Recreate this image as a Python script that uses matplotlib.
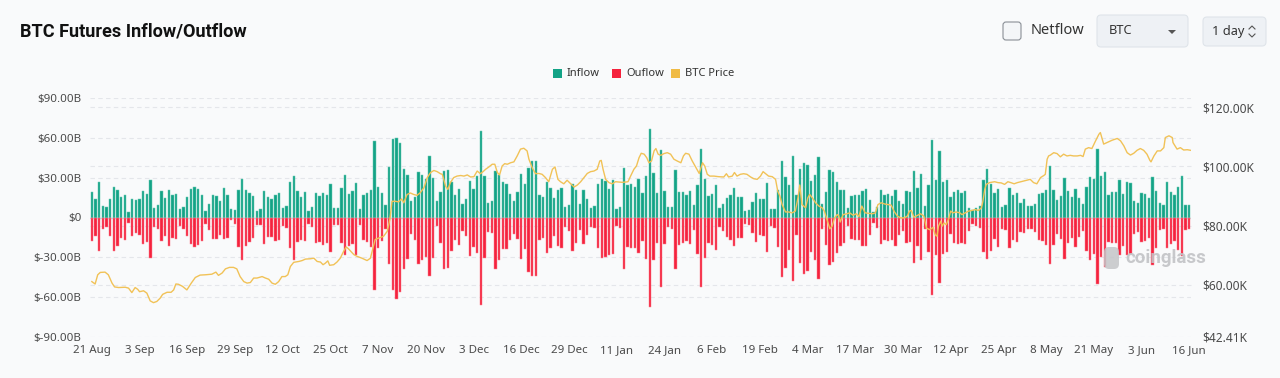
import matplotlib
matplotlib.use("Agg")
import matplotlib.pyplot as plt
from matplotlib.patches import Rectangle, FancyBboxPatch, Polygon
from matplotlib.transforms import blended_transform_factory
import numpy as np

# ---------------- data ----------------
start_date = "2024-08-21"
x_tick_labels = ["21 Aug", "3 Sep", "16 Sep", "29 Sep", "12 Oct", "25 Oct", "7 Nov",
                 "20 Nov", "3 Dec", "16 Dec", "29 Dec", "11 Jan", "24 Jan", "6 Feb",
                 "19 Feb", "4 Mar", "17 Mar", "30 Mar", "12 Apr", "25 Apr", "8 May",
                 "21 May", "3 Jun", "16 Jun"]
left_ticks = [-90, -60, -30, 0, 30, 60, 90]
left_tick_labels = ["$-90.00B", "$-60.00B", "$-30.00B", "$0", "$30.00B", "$60.00B", "$90.00B"]
right_ticks = [42.41, 60, 80, 100, 120]
right_tick_labels = ["$42.41K", "$60.00K", "$80.00K", "$100.00K", "$120.00K"]

# daily inflow (billion USD)
inflow = [
    19, 14, 27, 9, 8.25, 13.75, 22.75, 21, 15.75, 17.25, 4.25, 13.75, 13.25, 14, 20.25, 18, 28.25, 7.5,
    9.75, 19.75, 14.5, 21, 16.75, 18, 6.5, 8.25, 15.5, 21.5, 23.25, 21.5, 17.25, 5.25, 10.5, 16.75, 16.5,
    12.5, 22.5, 17, 6.25, 5.75, 20.75, 28.75,
    20.5, 18.25, 16.25, 5, 6.75, 20, 15.25, 14, 16.75, 18.75, 7.25, 8.75, 26.5, 31.5, 20, 15.75, 19, 5.25,
    8.25, 18.25, 16, 18.5, 17.25, 25.25, 7, 7, 22.25, 32.25, 18, 19.75, 26.25, 6.25, 17, 18.5, 21, 57.75,
    23.25, 18.25, 9.5, 38.25, 58.75, 60.25,
    56, 36.5, 31.75, 12.75, 15.75, 34.5, 32, 29.25, 46.5, 29.5, 12.75, 19.25, 35, 35.75, 26.75, 17.25,
    21.5, 10.25, 14.25, 27.5, 21.75, 31, 65.5, 31.5, 11, 12.5, 35.25, 31.75, 26.5, 25, 17.75, 12.25, 19.5,
    33, 25.25, 37.5, 42.25, 42.5, 17.25, 15.75, 26.5, 22.25, 14.5,
    20.5, 22.25, 7.75, 9.75, 25.25, 20.5, 10.25, 20.5, 14, 7.25, 8.5, 25, 28.75, 27.75, 21.75, 28.25, 6.5,
    7.75, 37.25, 24.25, 25.5, 23, 29.25, 18.75, 31.25, 66.75, 33.25, 18.25, 50.75, 20.25, 7.75, 8, 35.75,
    19.5, 19.5, 16.75, 19.75, 9.75, 24.5, 51.5, 28.75, 16.5,
    17.75, 24.5, 7, 10.5, 14.75, 17.25, 22, 15.75, 15.75, 5.25, 5.75, 11.5, 18.25, 13.75, 14, 26, 6.5, 6.5,
    20.5, 42.5, 30.5, 24.75, 46.25, 16.75, 36.5, 40.75, 39.5, 27.5, 32.25, 45.5, 10.25, 19.25, 36, 34, 27,
    21, 21, 7.25, 16.25, 17, 17.25, 20,
    21.5, 13.25, 4.25, 8.25, 21, 17.25, 17.75, 16, 21, 12.25, 10.25, 19.75, 19.5, 34.75, 22, 32.5, 9,
    24.25, 58.25, 28.25, 50, 26.75, 28, 15.75, 19.25, 20.5, 18.25, 20, 7, 5.75, 7.25, 8.75, 28.25, 36.25,
    25.25, 18.25, 21.5, 8.25, 9.25, 22.25, 17.25, 18.25,
    11, 14, 9,
    8.5, 10.5, 17.75, 18.5, 20.75, 39, 21, 13, 16, 29.75, 19.75, 15.5, 21.5, 14.5, 10.25, 23, 30.75, 28.75,
    51.75, 31.5, 34.25, 17.25, 19, 19.25, 28, 18, 26.75, 26.25, 12.25, 11.25, 18.5, 18, 14.5, 30.5, 20.25,
    10.75, 9.75, 26.75, 19.25, 17.25, 22.75, 31, 9.75, 9.5,
]

# daily outflow (billion USD, magnitude)
outflow = [
    17.75, 14, 25, 8.5, 7, 14, 25, 21.5, 15.75, 17, 4, 14, 11.75, 13.5, 20.25, 18.5, 30.25, 7.25, 9, 18, 14,
    21.5, 15.75, 16, 6.5, 8.5, 14, 20, 22.5, 20.75, 17.75, 5, 9.75, 16.5, 16.5, 13.5, 16, 15.75, 2.25, 5.25,
    22.25, 31.75,
    21.5, 18.5, 15.75, 5.75, 6, 20.25, 14.75, 14.75, 17.75, 17, 6.75, 8.25, 23, 32, 18.5, 16.75, 17.5, 4.75,
    7, 19, 18.5, 20.5, 19, 26.25, 6, 6, 19, 28.5, 21.75, 20.25, 28, 6, 17.25, 18.75, 22.25, 54.75, 22.75,
    17.75, 9, 34.75, 54.5, 61.5,
    55.75, 38.75, 31.5, 12.75, 17, 34.75, 32, 29.5, 44, 30.25, 6.5, 19.5, 38.75, 37.75, 25.5, 17, 21, 10.5,
    14, 28.75, 22.25, 26.75, 66, 30.5, 11, 11.5, 39, 32, 24, 24, 17.25, 12.75, 16.5, 31.25, 23.75, 41.25,
    44, 44.25, 17, 15.5, 26.75, 22.75, 14,
    21.5, 22.75, 7, 10.25, 25.25, 19.25, 9.5, 19.75, 13.25, 7.25, 7.75, 23.25, 30.75, 30, 28.25, 27.25,
    6.25, 7.75, 38.5, 22, 22.75, 23.25, 26.75, 18, 31.25, 67.75, 32.25, 19.5, 52, 19.75, 7, 9, 38.5, 20.5,
    19, 17.75, 20, 9.5, 27.25, 52, 30.25, 19,
    20.75, 24.75, 7, 10.5, 14.75, 16.75, 21.75, 15.75, 15.5, 5, 6, 11.5, 18.5, 13, 13.75, 26.25, 6.5, 7.75,
    22.5, 45, 38.25, 24.25, 48, 13, 34.5, 42.75, 40.25, 26.25, 32, 46, 9, 20.75, 36, 33.25, 26.75, 21.5,
    19.5, 6.75, 16.25, 16.75, 16.75, 21.5,
    21.75, 13, 4.5, 7.75, 20.25, 16.75, 17.75, 16.75, 21.75, 13, 10.25, 19.25, 18.25, 34, 21.5, 32.25,
    8.75, 25.75, 58.25, 28.5, 49, 27.25, 26, 12.75, 19, 19.75, 19, 20.25, 10, 5.25, 6.75, 8.25, 26, 31.5,
    25.25, 16.5, 22, 8.5, 9.25, 22.75, 17, 18.5,
    11, 12, 9,
    8.75, 10.75, 17, 18, 20.75, 34.75, 21, 12.75, 16.5, 31.25, 19.25, 15.25, 22, 14.75, 10.25, 25.25,
    32.25, 27.75, 49.75, 29.75, 37.25, 18.25, 19, 19.5, 28.25, 21.5, 28.25, 27.25, 12.25, 10.75, 18.75,
    17.75, 15.25, 36, 23, 9.75, 9, 23.25, 20.25, 17.75, 24.5, 29, 9.5, 9,
]

# BTC price samples: day offset from start_date, price in thousand USD
price_day = [
    0, 0.9, 1.6, 2.3, 3.6, 4.5, 5.5, 6.2, 7.3, 9.1, 10, 10.9, 11.8, 12.5, 13, 14.1, 15, 15.9, 16.8, 17.7,
    18.6, 19.3, 20.5, 21.6, 22.3, 22.9, 23.6, 24.7, 25.9, 27.1, 28.2, 29.5, 30.9, 32.7, 33.8, 34.5, 35.5,
    36.4, 37.5, 38.6, 39.5, 40.4, 41.4, 42.3, 43.2, 44.1, 45, 46.4, 47.3, 48.2, 49.1, 50, 50.9, 51.8,
    52.7, 53.4, 54.1, 55, 56.4, 57.3, 58.2, 59.5, 60.5, 61.4, 62.3, 63, 63.6, 64.3, 64.8, 65.9, 66.8,
    67.7, 68.6, 69.3, 69.9, 71.4, 72.3, 73.6, 75, 75.9, 76.6, 77.2, 78.2, 79.5, 80.5, 81.2, 81.8,
    82.7, 83.6, 84.4, 85, 85.9, 86.8, 87.7, 88.6, 89.5, 90.5, 91.4, 92.3, 93.2, 94.1, 95, 95.5, 96.4, 97,
    97.7, 98.6, 99.5, 100.5, 101.4, 102.3, 103.2, 104.1, 105, 105.9, 106.5, 107.3, 108.2, 109.1, 109.8,
    110.5, 111.1, 111.8, 112.5, 113.2, 114.1, 115, 115.9, 116.8, 117.7, 118.6, 119.1, 120, 120.9, 121.8,
    122.7, 123.6, 124.5, 125.5, 126.2,
    127, 127.7, 128.6, 129.5, 130.5, 131.4, 132.3, 133.2, 134.1, 135, 135.9, 136.8, 137.7, 138.4, 138.8,
    139.3, 140, 140.9, 141.8, 142.7, 143.6, 144.5, 145.5, 146.1, 146.8, 147.7, 148.4, 149.1, 149.7,
    150.5, 151.2, 151.8, 152.5, 153.2, 153.7, 154.3, 155, 155.9, 156.8, 157.7, 158.6, 159.5, 160.5,
    161.2, 161.8, 162.7, 163.6, 164.5, 165.5, 166.4, 167, 167.7, 168.4,
    169.5, 170.8, 172.2, 172.9, 173.5, 174.5, 175.1, 175.8, 176.7, 177.6, 178.5, 179.5, 180.4, 181.3,
    182.2, 182.9, 183.5, 184.4, 185.4, 186.3, 186.9, 187.5, 188.1, 189, 189.9, 190.8, 191.7, 192.4,
    192.9, 193.5, 194.5, 195.1, 195.6, 196.3, 197.2, 198.1, 199, 199.6, 200.4, 201.1, 201.7, 202.4,
    203.1, 203.5, 203.9, 204.7, 205.8, 206.5, 207.4, 208.3, 209, 209.8,
    210.7, 211.9, 212.8, 213.5, 214.2, 215.1, 216, 216.9, 217.8, 218.7, 219.5, 220.4, 221.3, 222.2,
    222.8, 223.3, 224, 224.9, 225.8, 226.7, 227.4, 228.3, 229.2, 229.8, 230.3, 230.7, 231.3, 231.7,
    232.2, 232.8, 233.5, 234, 234.6, 235.5, 236.5, 237.1, 238, 238.9, 239.8, 240.7, 241.6, 242.4, 242.8,
    243.3, 243.7, 244.6, 246, 246.9, 247.8, 248.7, 249.6, 250.4, 251.3, 252.2,
    255.7, 256.6, 257.5, 258.5, 259.4, 259.8, 260.3, 260.7, 261.2, 262.1, 263, 263.9, 264.8, 265.7,
    266.6, 267.5, 268.5, 269.4, 270.1, 270.7, 271.6, 272.5, 273.5, 274.4, 274.8, 275.3, 275.7, 276.6,
    278, 279.4, 280.3, 281.2, 282.1, 283, 283.9, 284.8, 285.7, 286.6, 287.5, 288.3, 288.6, 289.4, 290.3,
    291.2, 292.1, 292.5, 293.5, 294.4, 294.6, 295.7, 296.6, 297.5, 298.5, 299.4,
]
price_k = [
    61.1, 60.3, 63.4, 64.2, 64.3, 63.4, 60.6, 59.3, 59.1, 59.2, 58.9, 57.4, 59.1, 58.5, 57.7, 58.0, 57.2,
    54.6, 54.0, 54.4, 55.5, 56.8, 57.5, 57.5, 58.3, 60.3, 60.2, 59.5, 58.3, 60.6, 62.5, 63.3, 63.4, 63.6,
    64.3, 63.2, 64.0, 65.4, 65.9, 65.9, 65.4, 62.8, 61.1, 60.6, 60.8, 62.3, 62.3, 62.8, 62.3, 61.9, 60.6,
    60.2, 61.1, 62.8, 62.8, 63.4, 66.2, 67.6, 67.9, 68.2, 68.7, 68.8, 69.0, 67.9, 67.7, 66.8, 67.3, 68.1,
    66.6, 66.8, 67.7, 69.0, 71.3, 72.8, 72.2, 70.2, 69.6, 69.0, 68.2, 69.0, 72.4, 75.3, 75.8, 76.4, 78.1,
    82.0, 88.2,
    88.2, 88.0, 89.0, 87.7, 90.5, 91.0, 90.5, 90.2, 91.1, 92.8, 96.2, 97.9, 98.6, 98.2, 97.5, 97.3, 93.3,
    92.2, 94.5, 96.2, 96.7, 96.9, 96.7, 97.1, 96.4, 96.5, 98.4, 97.5, 98.1, 99.0, 99.8, 100.7, 100.7,
    97.9, 97.1, 100.1, 100.9, 100.7, 101.2, 101.5, 103.5, 105.8, 106.1, 105.2, 102.4, 99.5, 97.5, 97.6,
    97.3, 96.2, 94.8, 99.0, 99.8,
    95.6, 94.8, 94.1, 95.3, 94.1, 93.0, 93.7, 94.8, 96.2, 97.6, 98.2, 98.4, 99.0, 101.8, 102.0, 99.0,
    95.6, 94.5, 94.1, 94.8, 94.7, 94.6, 94.7, 94.8, 96.7, 99.0, 100.1, 102.9, 104.4, 104.1, 102.9, 101.2,
    101.8, 105.2, 106.0, 104.1, 103.7, 104.3, 104.6, 104.1, 102.4, 101.8, 101.2, 103.5, 104.4, 104.1,
    101.8, 99.8, 97.6, 101.2, 100.1, 97.3, 96.7,
    96.7, 96.5, 96.4, 97.5, 96.4, 96.7, 97.9, 96.7, 97.3, 97.5, 97.3, 96.4, 95.8, 95.6, 96.7, 98.2, 97.6,
    96.7, 96.5, 95.6, 91.6, 89.9, 87.1, 84.6, 84.6, 84.3, 84.9, 89.4, 93.7, 87.1, 86.0, 89.4, 90.5, 89.4,
    87.7, 86.6, 86.0, 84.9, 81.7, 78.9, 79.8, 82.6, 83.7, 83.4, 81.2, 83.7, 84.0, 84.3, 83.5, 84.0, 83.0,
    86.6,
    84.3, 84.1, 84.0, 84.3, 87.1, 87.7, 87.3, 87.1, 86.9, 84.6, 83.2, 82.6, 82.6, 83.2, 84.9, 85.1, 82.8,
    83.4, 84.0, 83.2, 79.2, 78.6, 79.4, 76.9, 76.4, 79.8, 81.5, 79.8, 80.9, 80.3, 82.4, 84.9, 84.3, 84.6,
    84.3, 83.7, 84.3, 84.9, 85.1, 85.4, 85.1, 86.0, 88.2, 92.2, 93.9, 94.5, 94.8, 94.5, 94.4, 93.9, 94.8,
    94.5, 94.1, 94.5,
    95.6, 94.5, 94.1, 96.2, 96.9, 97.3, 102.4, 103.5, 103.8, 104.6, 104.3, 103.2, 104.1, 103.5, 103.7,
    103.5, 103.5, 103.7, 103.3, 105.8, 106.3, 106.0, 108.6, 110.8, 111.4, 109.2, 107.5, 108.0, 108.8,
    109.4, 108.6, 106.9, 104.6, 103.8, 104.4, 105.4, 106.0, 105.4, 104.1, 102.0, 101.5, 103.5, 105.2,
    105.2, 106.3, 109.7, 110.3, 109.7, 108.0, 105.8, 106.3, 105.5, 105.6, 105.4,
]

# ---------------- styling ----------------
W, H = 1280, 378
BG = "#f9fafb"
GREEN = "#13a386"
GREEN_EDGE = "#6cc9b5"
RED = "#f5223d"
RED_EDGE = "#fb8393"
GOLD = "#f1c257"
GRID = "#e4e6ea"
TXT = "#4a4a4a"
FONT = "Noto Sans"

plt.rcParams["font.family"] = [FONT, "DejaVu Sans"]

fig = plt.figure(figsize=(W / 100, H / 100), dpi=100)
fig.patch.set_facecolor(BG)


def fx(px):
    return px / W


def fy(py):
    return 1 - py / H


ax_left, ax_right, ax_top, ax_bottom = 90, 1191, 98, 337
ax = fig.add_axes([fx(ax_left), fy(ax_bottom), fx(ax_right - ax_left), (ax_bottom - ax_top) / H])
ax.set_facecolor("none")
ax2 = ax.twinx()

n = len(inflow)
xs = np.arange(n)
inflow_a = np.array(inflow)
outflow_a = -np.array(outflow)

ax.bar(xs, inflow_a, width=0.64, color=GREEN, edgecolor=GREEN_EDGE, linewidth=0.35, zorder=3)
ax.bar(xs, outflow_a, width=0.64, color=RED, edgecolor=RED_EDGE, linewidth=0.35, zorder=3)

ax.set_xlim(-0.5, n - 0.5)
ax.set_ylim(-90, 90)
ax2.set_ylim(42.41, 123.05)

# gridlines (left axis ticks and right axis ticks), behind bars
for t in left_ticks:
    if t != 0:
        ax.axhline(t, color=GRID, lw=0.8, dashes=(4, 3), zorder=0)
tr = blended_transform_factory(ax.transAxes, ax2.transData)
for t in right_ticks[1:]:
    ax.plot([0, 1], [t, t], transform=tr, color=GRID, lw=0.8, dashes=(4, 3), zorder=0, clip_on=False)
ax.axhline(0, color="#d3d5d9", lw=1.0, zorder=1)

ax2.plot(price_day, price_k, color=GOLD, lw=1.0, zorder=5)

for a in (ax, ax2):
    for s in a.spines.values():
        s.set_visible(False)

ax.set_yticks(left_ticks)
ax.set_yticklabels(left_tick_labels)
ax.tick_params(axis="y", length=0, pad=6, labelsize=8.3, labelcolor=TXT)
ax.set_xticks(np.arange(0, n, 13))
ax.set_xticklabels(x_tick_labels)
ax.tick_params(axis="x", length=0, pad=6, labelsize=8.3, labelcolor=TXT)

ax2.set_yticks(right_ticks)
ax2.set_yticklabels(right_tick_labels)
ax2.tick_params(axis="y", length=0, pad=8, labelsize=8.6, labelcolor=TXT)

# ---------------- title ----------------
fig.text(fx(20), fy(32), "BTC Futures Inflow/Outflow", fontsize=13.1, fontweight="bold",
         family=["Roboto", "DejaVu Sans"], color="#111111", va="center", ha="left")

# ---------------- legend ----------------
legend_items = [("Inflow", GREEN, 553), ("Ouflow", RED, 612), ("BTC Price", "#f0bb45", 671)]
for label, col, xpx in legend_items:
    fig.patches.append(Rectangle((fx(xpx), fy(78)), fx(9), 9 / H, transform=fig.transFigure,
                                 facecolor=col, edgecolor="none"))
    fig.text(fx(xpx + 14), fy(73), label, fontsize=8, color="#333333", va="center", ha="left")

# ---------------- top-right controls ----------------
def rbox(x0, y0, w, h, fc, ec, r=4):
    p = FancyBboxPatch((fx(x0), fy(y0 + h)), fx(w), h / H,
                       boxstyle=f"round,pad=0,rounding_size={r / W}",
                       transform=fig.transFigure, facecolor=fc, edgecolor=ec, linewidth=0.8,
                       mutation_aspect=W / H)
    fig.patches.append(p)


rbox(1003, 22, 18, 18, "#f4f6f8", "#8a8f96", r=3)
fig.text(fx(1031), fy(31), "Netflow", fontsize=10.5, color="#333333", va="center", ha="left")
rbox(1097, 15, 91, 32, "#eef1f5", "#dfe4ea", r=4)
fig.text(fx(1109), fy(31), "BTC", fontsize=9.2, color="#333333", va="center", ha="left")
fig.patches.append(Polygon([(fx(1168), fy(30)), (fx(1176), fy(30)), (fx(1172), fy(34))],
                           closed=True, transform=fig.transFigure, facecolor="#555555",
                           edgecolor="none"))
rbox(1203, 17, 63, 29, "#eef1f5", "#dfe4ea", r=4)
fig.text(fx(1212), fy(31), "1 day", fontsize=9.2, color="#333333", va="center", ha="left")
fig.lines.append(plt.Line2D([fx(1249), fx(1252), fx(1255)], [fy(29), fy(26), fy(29)],
                            transform=fig.transFigure, color="#555555", lw=0.8))
fig.lines.append(plt.Line2D([fx(1249), fx(1252), fx(1255)], [fy(34), fy(37), fy(34)],
                            transform=fig.transFigure, color="#555555", lw=0.8))

# ---------------- watermark ----------------
fig.patches.append(FancyBboxPatch((fx(1104), fy(269)), fx(15), 22 / H,
                                  boxstyle=f"round,pad=0,rounding_size={5 / W}",
                                  transform=fig.transFigure, facecolor="#c4c5c8",
                                  edgecolor="none", alpha=0.85, mutation_aspect=W / H))
fig.text(fx(1125), fy(258), "coinglass", fontsize=13.5, fontweight="bold",
         family=["Roboto", "DejaVu Sans"], color="#c2c3c6", va="center", ha="left", alpha=0.9)

fig.savefig("out.png", dpi=100, facecolor=BG)
